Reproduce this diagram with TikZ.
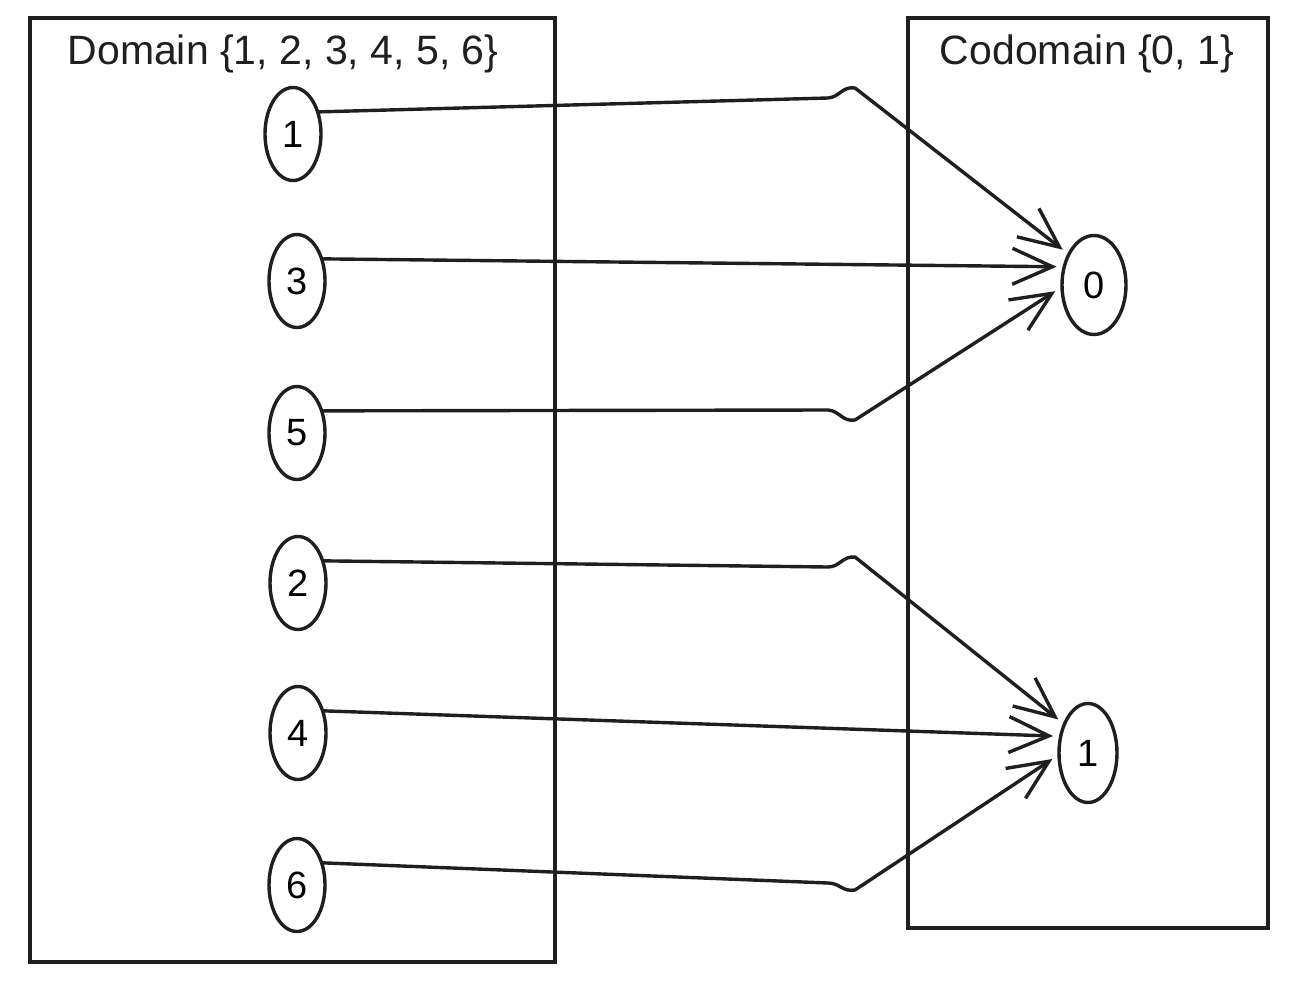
\documentclass[tikz,border=0pt]{standalone}
\usepackage{fontspec}
\setmainfont{Liberation Sans}
\usetikzlibrary{shapes.geometric,arrows.meta}
\begin{document}
\begin{tikzpicture}[x=1pt,y=-1pt,
  box/.style={draw=black!88,line width=3.2pt},
  elt/.style={ellipse,draw=black!88,line width=3.4pt,inner sep=0pt,minimum width=56pt,minimum height=93pt,font=\fontsize{38}{42}\selectfont},
  celt/.style={ellipse,draw=black!88,line width=3.4pt,inner sep=0pt,minimum width=64pt,minimum height=99pt,font=\fontsize{38}{42}\selectfont},
  ttl/.style={font=\fontsize{41}{46}\selectfont,text=black!88},
  arr/.style={draw=black!88,line width=3.4pt,line cap=round,line join=round,-{Straight Barb[length=40pt,width=36pt,line width=3.4pt]},shorten >=6pt}]
\useasboundingbox (0,0) rectangle (1298,980);
\node[box,minimum width=525pt,minimum height=944pt,inner sep=0pt] (dom) at (292.5,490) {};
\node[box,minimum width=360pt,minimum height=910pt,inner sep=0pt] (cod) at (1088,473) {};
\node[ttl] (dt) at (283,54) {Domain \{1, 2, 3, 4, 5, 6\}};
\node[ttl] (ct) at (1087,54) {Codomain \{0, 1\}};
\node[elt] (d1) at (293,134) {1};
\node[elt] (d3) at (297,281) {3};
\node[elt] (d5) at (297,433) {5};
\node[elt] (d2) at (298,583) {2};
\node[elt] (d4) at (298,733) {4};
\node[elt] (d6) at (297,885) {6};
\node[celt] (n0) at (1094,285) {0};
\node[celt,minimum width=58pt] (n1) at (1088,753) {1};
\draw[arr] (d1.40) -- (828,98) .. controls (840,97) and (842,86) .. (855,88) -- (n0.130);
\draw[arr] (d3.40) -- (n0.150);
\draw[arr] (d5.40) -- (828,410) .. controls (840,411) and (842,422) .. (855,420) -- (n0.185);
\draw[arr] (d2.40) -- (828,567) .. controls (840,567) and (842,556) .. (855,557) -- (n1.130);
\draw[arr] (d4.40) -- (n1.150);
\draw[arr] (d6.40) -- (828,883) .. controls (840,883) and (842,892) .. (855,890) -- (n1.185);
\end{tikzpicture}
\end{document}
